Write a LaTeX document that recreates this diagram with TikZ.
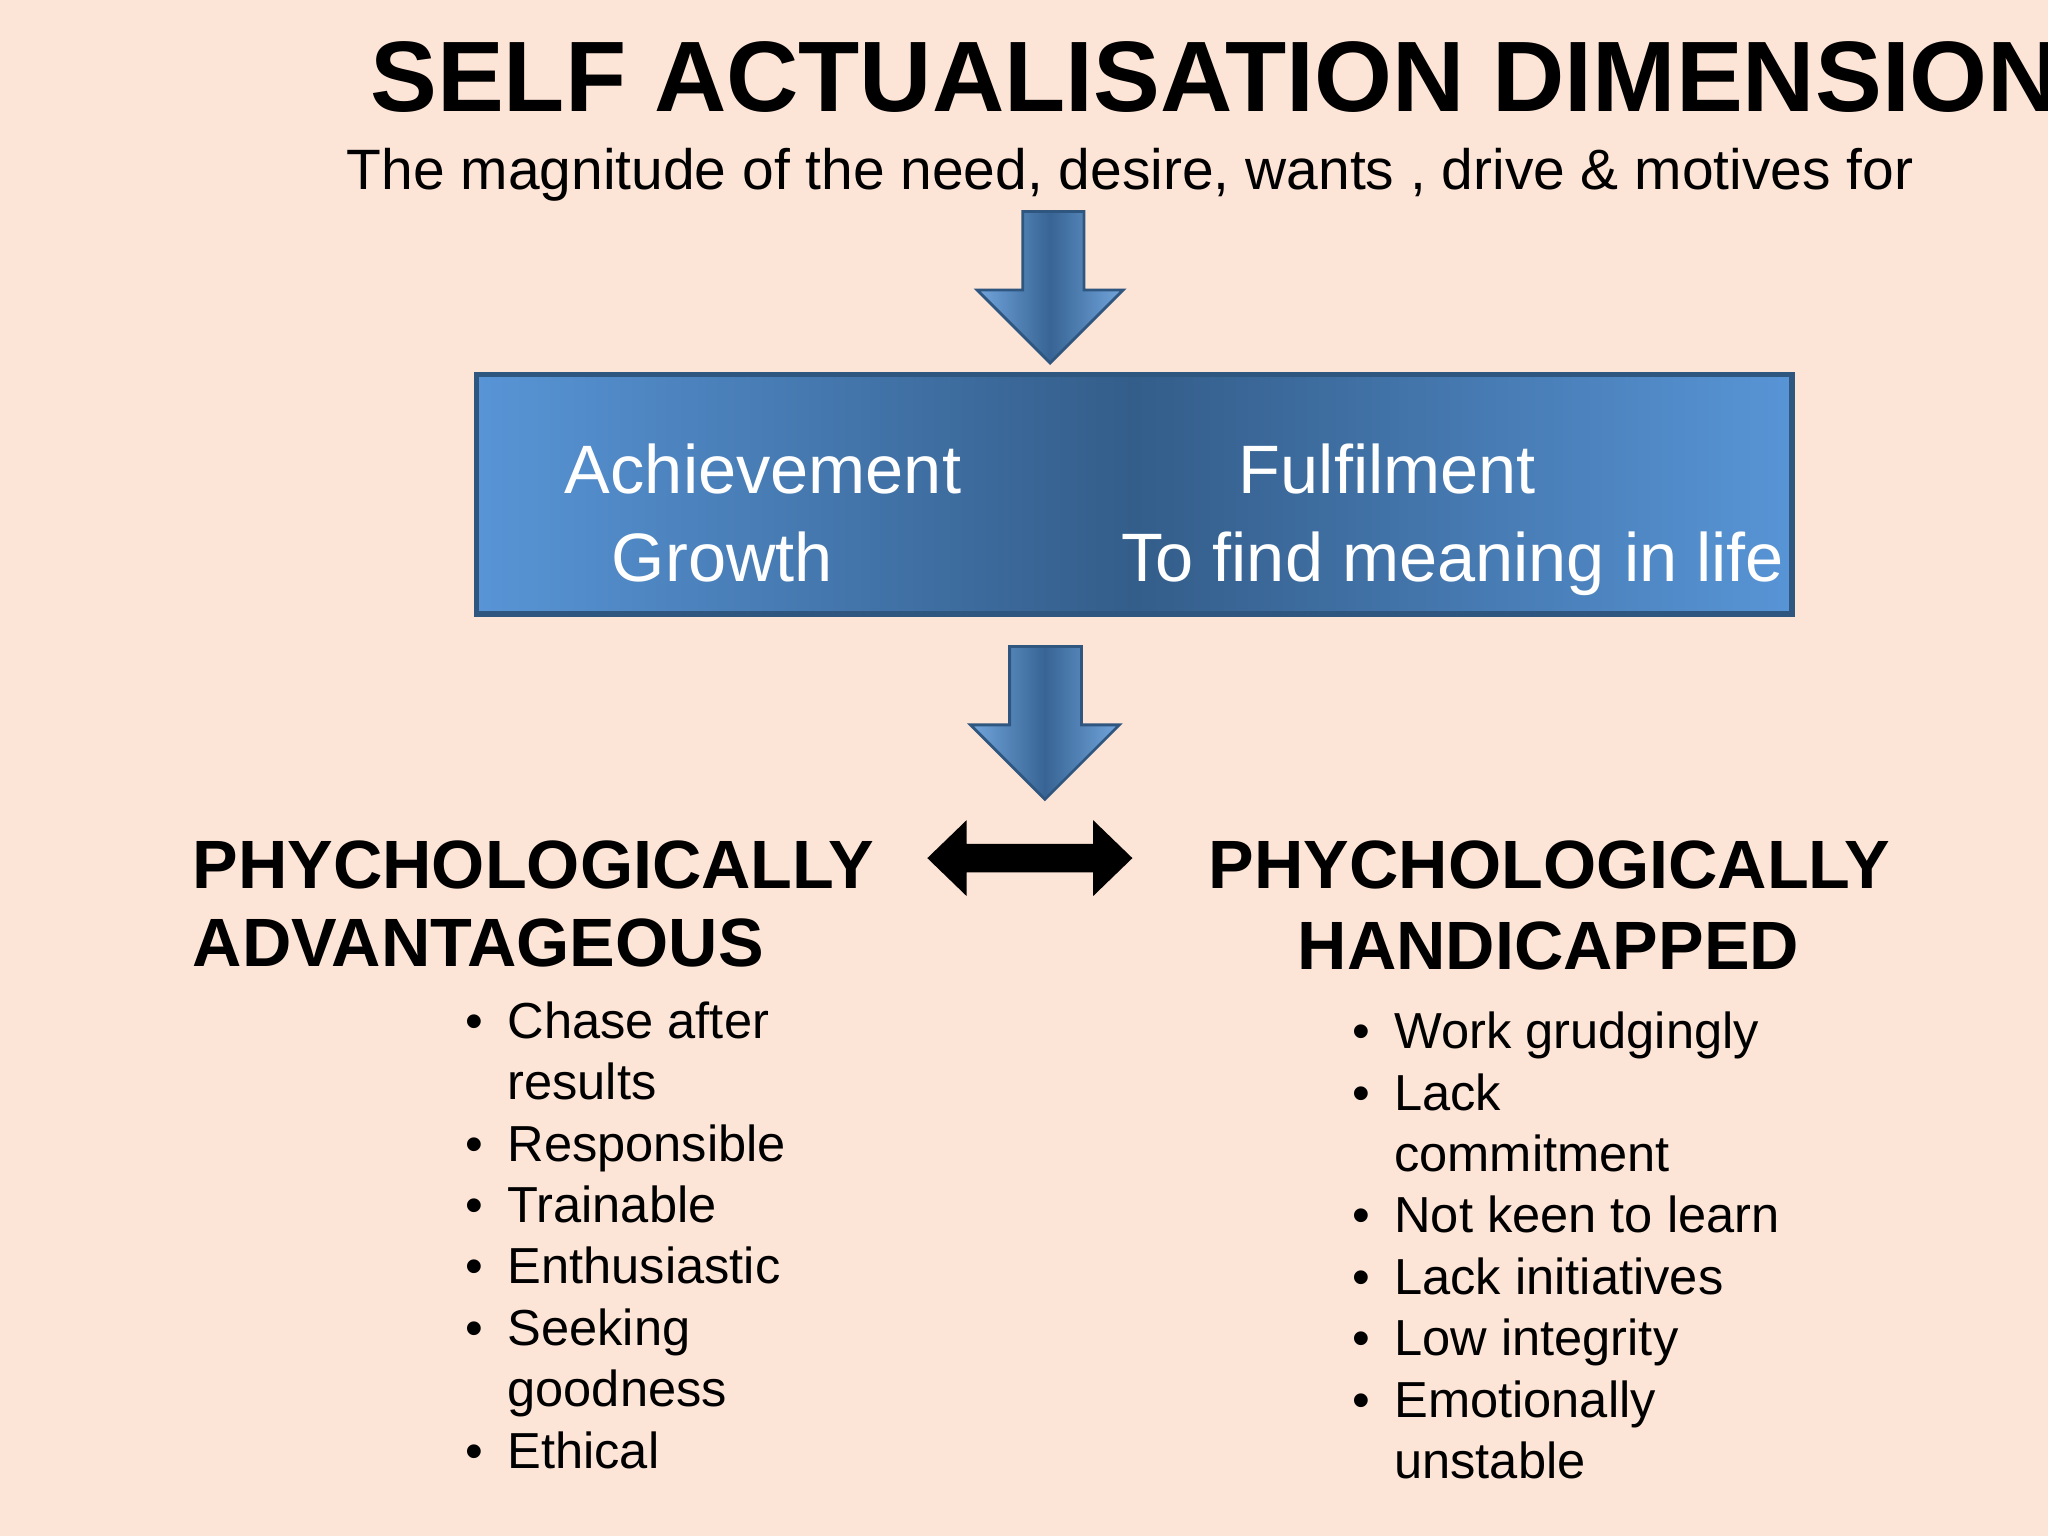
\documentclass[tikz,border=0pt]{standalone}
\usepackage{fontspec}
\setmainfont{Liberation Sans}
\begin{document}
\begin{tikzpicture}[x=0.013061cm,y=-0.013061cm,
  txt/.style={anchor=base west,inner sep=0pt},
  box/.style={font=\fontsize{19.5}{22}\selectfont,text=white},
  head/.style={txt,font=\bfseries\fontsize{19.45}{24}\selectfont},
  item/.style={txt,font=\fontsize{14.4}{18}\selectfont}]
\definecolor{bg}{HTML}{FCE4D6}
\definecolor{bl}{HTML}{4F8FD4}
\fill[bg] (0,0) rectangle (1568,1176);
\clip (0,0) rectangle (1568,1176);
\useasboundingbox (0,0) rectangle (1568,1176);
\node[txt,font=\bfseries\fontsize{28.5}{32}\selectfont] (title) at (283,85) {SELF ACTUALISATION DIMENSION};
\node[txt,font=\fontsize{16.2}{19}\selectfont] (sub) at (265,145) {The magnitude of the need, desire, wants , drive \& motives for};
% arrow 1
\path[draw=bl!60!black,line width=0.8pt,left color=bl!80!white,right color=bl!80!white,middle color=bl!70!black] (783,162) -- (830,162) -- (830,222) -- (860,222) -- (804,278) -- (748,222) -- (783,222) -- cycle;
% box
\fill[draw=bl!60!black,line width=1.5pt,left color=bl!95!white,right color=bl!95!white,middle color=bl!65!black] (365,287) rectangle (1372,470);
\node[txt,box] (a) at (432,378) {Achievement};
\node[txt,box] (g) at (468,445) {Growth};
\node[txt,box] (f) at (948,378) {Fulfilment};
\node[txt,box] (m) at (858,445) {To find meaning in life};
% arrow 2
\path[draw=bl!60!black,line width=0.8pt,left color=bl!80!white,right color=bl!80!white,middle color=bl!70!black] (773,495) -- (828,495) -- (828,555) -- (857,555) -- (800,612) -- (743,555) -- (773,555) -- cycle;
% double arrow
\fill[black] (710,657) -- (740,628) -- (740,646) -- (837,646) -- (837,628) -- (867,657) -- (837,686) -- (837,668) -- (740,668) -- (740,686) -- cycle;
\node[head] (l1) at (147,680) {PHYCHOLOGICALLY};
\node[head] (l2) at (147,740) {ADVANTAGEOUS};
\node[head] (r1) at (925,680) {PHYCHOLOGICALLY};
\node[head] (r2) at (993,742) {HANDICAPPED};
\foreach \t [count=\i] in {Chase after,results,Responsible,Trainable,Enthusiastic,Seeking,goodness,Ethical}{
  \node[item] (L\i) at (388,{795+47*(\i-1)}) {\t};}
\foreach \i in {1,3,4,5,6,8}{\node[item,anchor=base] (LB\i) at (363,{795+47*(\i-1)}) {\textbullet};}
\foreach \t [count=\i] in {Work grudgingly,Lack,commitment,Not keen to learn,Lack initiatives,Low integrity,Emotionally,unstable}{
  \node[item] (R\i) at (1067,{803+47*(\i-1)}) {\t};}
\foreach \i in {1,2,4,5,6,7}{\node[item,anchor=base] (RB\i) at (1042,{803+47*(\i-1)}) {\textbullet};}
\end{tikzpicture}
\end{document}
